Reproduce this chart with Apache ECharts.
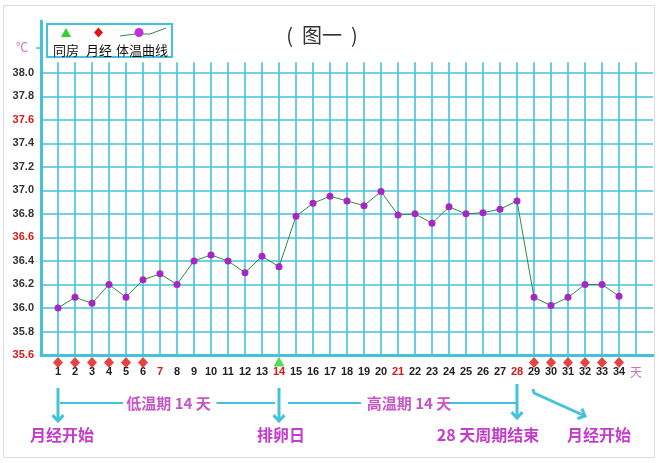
<!DOCTYPE html>
<html>
<head>
<meta charset="utf-8">
<script src="https://cdn.jsdelivr.net/npm/echarts@6/dist/echarts.min.js"></script>
<style>
html,body{margin:0;padding:0;background:#fff;}
#c{width:660px;height:463px;}
</style>
</head>
<body>
<div id="c"></div>
<script>
// ---- data ----
const days = [1,2,3,4,5,6,7,8,9,10,11,12,13,14,15,16,17,18,19,20,21,22,23,24,25,26,27,28,29,30,31,32,33,34];
const temps = [36.00,36.09,36.04,36.20,36.09,36.24,36.29,36.20,36.40,36.45,36.40,36.30,36.44,36.35,
               36.78,36.89,36.95,36.91,36.87,36.99,36.79,36.80,36.72,36.86,36.80,36.81,36.84,36.91,
               36.09,36.02,36.09,36.20,36.20,36.10];
const mensesDays = [1,2,3,4,5,6,29,30,31,32,33,34];
const intercourseDays = [14];
const redDays = [7,14,21,28];
const gridDays = [1,2,3,4,5,6,7,8,9,10,11,12,13,14,15,16,17,18,19,20,21,22,23,24,25,26,27,28,29,30,31,32,33,34,35];
const yTicks = [35.8,36.0,36.2,36.4,36.6,36.8,37.0,37.2,37.4,37.6,37.8,38.0];
const redTemps = [35.6,36.6,37.6];
const dayUnit = '天';
const legendNames = ['同房','月经','体温曲线'];

const cyan = '#45c2db';
const magenta = '#c43ccc';
const chart = echarts.init(document.getElementById('c'), null, {renderer:'canvas'});

const hLines = yTicks.map(v => [{coord:[0, v]}, {coord:[36, v]}]);
const vLines = gridDays.map(d => [{coord:[d, 35.6]}, {coord:[d, 38.09]}]);

chart.setOption({
  animation: false,
  backgroundColor: '#fff',
  grid: {left: 41, right: 7, top: 21, bottom: 108},
  xAxis: {
    type: 'value', min: 0, max: 36, interval: 1,
    axisLine: {show: true, lineStyle: {color: cyan, width: 3}},
    axisTick: {show: false},
    splitLine: {show: false},
    axisLabel: {
      margin: 11,
      formatter: function (v) {
        v = Math.round(v);
        if (v === 35) return '{t|' + dayUnit + '}';
        if (v < 1 || v > 34) return '';
        return redDays.indexOf(v) >= 0 ? '{r|' + v + '}' : '{n|' + v + '}';
      },
      rich: {
        n: {color: '#222', fontSize: 11, fontWeight: 'bold', fontFamily: 'Liberation Sans, Arial'},
        r: {color: '#d81818', fontSize: 11, fontWeight: 'bold', fontFamily: 'Liberation Sans, Arial'},
        t: {color: '#d070b0', fontSize: 12, fontFamily: 'Noto Sans CJK SC'}
      }
    }
  },
  yAxis: {
    type: 'value', min: 35.6, max: 38.44, interval: 0.2,
    axisLine: {show: true, lineStyle: {color: cyan, width: 3}},
    axisTick: {show: false},
    splitLine: {show: false},
    axisLabel: {
      margin: 7,
      formatter: function (v) {
        v = Math.round(v * 10) / 10;
        if (v > 38.0) return '';
        const s = v.toFixed(1);
        return redTemps.indexOf(v) >= 0 ? '{r|' + s + '}' : '{n|' + s + '}';
      },
      rich: {
        n: {color: '#333', fontSize: 11, fontWeight: 'bold', fontFamily: 'Liberation Sans, Arial'},
        r: {color: '#d81818', fontSize: 11, fontWeight: 'bold', fontFamily: 'Liberation Sans, Arial'}
      }
    }
  },
  series: [
    {
      type: 'line', data: [], silent: true, z: 1,
      markLine: {
        silent: true, symbol: 'none', animation: false,
        label: {show: false},
        lineStyle: {color: cyan, width: 1.6, type: 'solid'},
        data: hLines.concat(vLines)
      }
    },
    {
      name: legendNames[2], type: 'line', z: 5,
      data: days.map((d, i) => [d, temps[i]]),
      symbol: 'circle', symbolSize: 7,
      itemStyle: {color: '#a626c6'},
      lineStyle: {color: '#2e8b3e', width: 1}
    },
    {
      name: legendNames[1], type: 'scatter', z: 6, clip: false,
      data: mensesDays.map(d => [d, 35.6]),
      symbol: 'diamond', symbolSize: [10, 11], symbolOffset: [0, 7.5],
      itemStyle: {color: '#e01515'}
    },
    {
      name: legendNames[0], type: 'scatter', z: 6, clip: false,
      data: intercourseDays.map(d => [d, 35.6]),
      symbol: 'triangle', symbolSize: [11, 10], symbolOffset: [0, 6.5],
      itemStyle: {color: '#2ed12e'}
    }
  ]
});

// ---- annotations placed from axis coordinates ----
function px(d, v) { return chart.convertToPixel({gridIndex: 0}, [d, v]); }
const g = [];
const stroke = {stroke: cyan, lineWidth: 3, fill: null};

function arrow(points, head) {
  g.push({type: 'polyline', shape: {points: points}, style: stroke, z: 10});
  const n = points.length;
  const [x2, y2] = points[n - 1], [x1, y1] = points[n - 2];
  const a = Math.atan2(y2 - y1, x2 - x1);
  const h = head || 8;
  const p1 = [x2 - h * Math.cos(a - 0.75), y2 - h * Math.sin(a - 0.75)];
  const p2 = [x2 - h * Math.cos(a + 0.75), y2 - h * Math.sin(a + 0.75)];
  g.push({type: 'polyline', shape: {points: [p1, [x2, y2], p2]}, style: stroke, z: 10});
}
function text(x, y, s, size, color, weight, align) {
  g.push({type: 'text', x: x, y: y, z: 11,
    style: {text: s, fill: color, fontSize: size, fontWeight: weight || 'normal',
      fontFamily: 'Noto Sans CJK SC', align: align || 'center', verticalAlign: 'middle'}});
}
function hline(x1, x2, y) {
  g.push({type: 'line', shape: {x1: x1, y1: y, x2: x2, y2: y}, style: {stroke: cyan, lineWidth: 2}, z: 10});
}

const x1 = px(1, 35.6)[0], x14 = px(14, 35.6)[0], x28 = px(28, 35.6)[0], x29 = px(29, 35.6)[0];
const y0 = px(1, 35.6)[1];
const yA = y0 + 33, yB = y0 + 66, yMid = y0 + 48, yTxt = y0 + 80;

arrow([[x1, yA], [x1, yB]]);
arrow([[x14, yA], [x14, yB]]);
arrow([[x28, yA - 4], [x28, yB - 3]]);
arrow([[x29 - 1, yA + 1], [x29, yA + 5], [x29 + 51, yB - 5]]);

hline(x1 + 2, x1 + 65, yMid);
hline((x1 + x14) / 2 + 48, x14 - 4, yMid);
text((x1 + x14) / 2, yMid, '低温期 14 天', 15, '#c855c8', 'bold');
hline(x14 + 9, x14 + 82, yMid);
hline((x14 + x28) / 2 + 49, x28 - 1, yMid);
text((x14 + x28) / 2 + 11, yMid, '高温期 14 天', 15, '#c855c8', 'bold');

text(x1 + 4, yTxt, '月经开始', 16, magenta, 'bold');
text(x14 + 2, yTxt, '排卵日', 16, magenta, 'bold');
text(x28 - 29, yTxt, '28 天周期结束', 16, magenta, 'bold');
text(x29 + 65, yTxt, '月经开始', 16, magenta, 'bold');

// degree label and tick on y axis
const pC = px(0, 38.21);
text(pC[0] - 19, pC[1] - 1, '℃', 12, '#d070b8', 'normal');
g.push({type: 'line', shape: {x1: pC[0] - 5, y1: pC[1], x2: pC[0], y2: pC[1]}, style: {stroke: cyan, lineWidth: 1.5}, z: 10});

// title
text(322, 35, '(  图一  )', 20, '#333', 'normal');

// legend box
g.push({type: 'rect', shape: {x: 47, y: 24, width: 125, height: 33}, style: {stroke: cyan, lineWidth: 2, fill: '#fff'}, z: 12});
g.push({type: 'polygon', shape: {points: [[66, 28], [61, 37], [71, 37]]}, style: {fill: '#2ed12e'}, z: 13});
g.push({type: 'polygon', shape: {points: [[98.5, 27.5], [103, 32.5], [98.5, 37.5], [94, 32.5]]}, style: {fill: '#e01515'}, z: 13});
g.push({type: 'polyline', shape: {points: [[120, 36], [135, 34]]}, style: {stroke: '#2e8b3e', lineWidth: 1, fill: null}, z: 13});
g.push({type: 'polyline', shape: {points: [[143, 34], [150, 34], [166, 28]]}, style: {stroke: '#2e8b3e', lineWidth: 1, fill: null}, z: 13});
g.push({type: 'circle', shape: {cx: 139, cy: 32.5, r: 4.5}, style: {fill: '#c030d8'}, z: 13});
const lg = [[66, legendNames[0]], [99, legendNames[1]], [142, legendNames[2]]];
lg.forEach(([x, s]) => g.push({type: 'text', x: x, y: 50, z: 13,
  style: {text: s, fill: '#111', fontSize: 13, fontFamily: 'Noto Sans CJK SC', align: 'center', verticalAlign: 'middle'}}));

// outer border
g.push({type: 'rect', shape: {x: 3.5, y: 5.5, width: 651, height: 452}, style: {stroke: '#dcdcdc', lineWidth: 1, fill: null}, z: 0});

chart.setOption({graphic: g});
</script>
</body>
</html>
